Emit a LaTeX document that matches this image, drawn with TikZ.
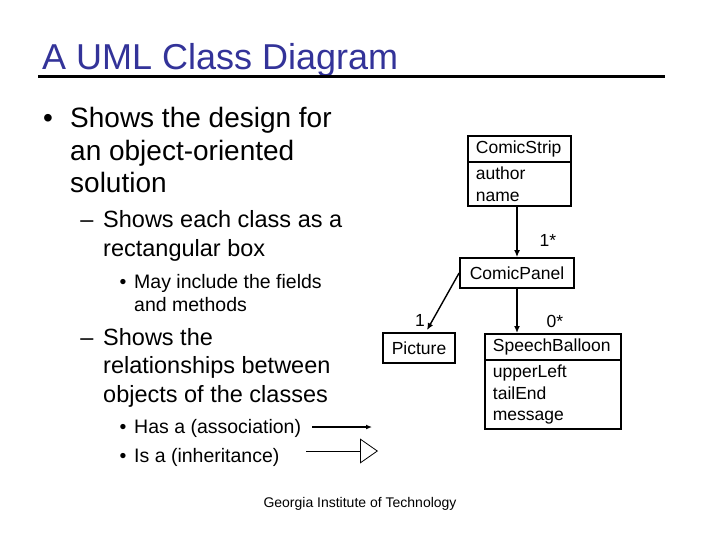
\documentclass[tikz,border=0pt]{standalone}
\usepackage{fontspec}
\setmainfont{Liberation Sans}
\usetikzlibrary{arrows.meta,shapes.multipart}
\definecolor{titleblue}{HTML}{333399}
\newcommand\classfont{\fontsize{17.5}{21.5}\selectfont}
\tikzset{
  classbox/.style={draw, line width=1.8pt, rectangle split, rectangle split parts=2,
    align=left, font=\classfont, inner xsep=8pt, inner ysep=4pt, anchor=north west},
  namebox/.style={draw, line width=1.8pt, font=\classfont, minimum height=30pt, inner sep=0pt},
  mult/.style={font=\classfont, inner sep=0pt},
  assoc/.style={line width=1.4pt, -{Latex[length=7pt,width=6pt]}},
  lvlone/.style={anchor=base west, align=left, inner sep=0pt, font=\fontsize{28}{32.5}\selectfont},
  lvltwo/.style={anchor=base west, align=left, inner sep=0pt, font=\fontsize{23.5}{28.5}\selectfont},
  lvlthree/.style={anchor=base west, align=left, inner sep=0pt, font=\fontsize{19.5}{23}\selectfont}
}
\begin{document}
\begin{tikzpicture}[x=1pt, y=-1pt]
  \useasboundingbox[fill=white] (0,0) rectangle (720,540);
  \node[anchor=base west, inner sep=0pt, text=titleblue,
    font=\fontsize{36}{40}\selectfont] (title) at (42,70) {A UML Class Diagram};
  \draw[line width=3pt] (38,77) -- (665,77);

  \node[lvlone, anchor=base] (dot1) at (48,128) {•};
  \node[lvlone] (design) at (70,193) {Shows the design for\\an object-oriented\\solution};
  \node[lvltwo, anchor=base] (dash1) at (87,228) {–};
  \node[lvltwo] (eachclass) at (103,256.5) {Shows each class as a\\rectangular box};
  \node[lvlthree, anchor=base] (dot2) at (123,288) {•};
  \node[lvlthree] (fields) at (134,311) {May include the fields\\and methods};
  \node[lvltwo, anchor=base] (dash2) at (87,345) {–};
  \node[lvltwo] (relations) at (103,402) {Shows the\\relationships between\\objects of the classes};
  \node[lvlthree, anchor=base] (dot3) at (123,433) {•};
  \node[lvlthree] (hasa) at (134,433) {Has a (association)};
  \node[lvlthree, anchor=base] (dot4) at (123,462) {•};
  \node[lvlthree] (isa) at (134,462) {Is a (inheritance)};

  \coordinate (hasa-s) at (312,427);
  \coordinate (hasa-e) at (372,427);
  \draw[line width=1.3pt, -{Latex[length=6pt,width=5pt]}] (hasa-s) -- (hasa-e);
  \coordinate (isa-s) at (306,451);
  \coordinate (isa-e) at (378,451);
  \draw[line width=0.8pt, -{Triangle[open,length=18pt,width=25pt]}] (isa-s) -- (isa-e);

  \node[classbox, text width=87pt] (strip) at (467,135) {ComicStrip\nodepart{second}author\\name};
  \node[namebox, minimum width=114pt] (panel) at (517,273) {ComicPanel};
  \node[namebox, minimum width=72pt] (picture) at (419,348) {Picture};
  \node[classbox, text width=120pt] (balloon) at (484,333)
    {SpeechBalloon\nodepart{second}upperLeft\\tailEnd\\message};

  \draw[assoc] (panel.north |- strip.south) -- (panel.north);
  \draw[assoc] (panel.south) -- (panel.south |- balloon.north);
  \draw[assoc] (panel.west) -- ([xshift=8pt,yshift=2pt]picture.north);
  \node[mult] (many1) at (548,240) {1*};
  \node[mult] (many0) at (555,321) {0*};
  \node[mult] (one) at (420,320) {1};

  \node[font=\fontsize{14}{16}\selectfont, inner sep=0pt] (footer) at (360,504)
    {Georgia Institute of Technology};
\end{tikzpicture}
\end{document}
